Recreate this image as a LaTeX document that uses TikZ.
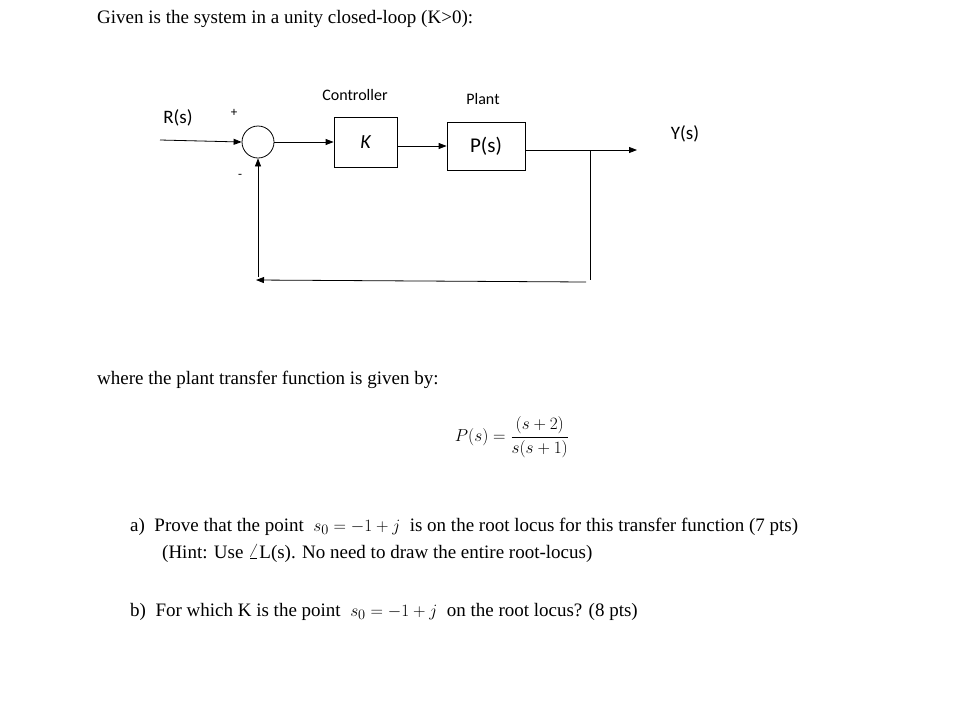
\documentclass[tikz,border=0pt]{standalone}
\usepackage{amsmath}
\usepackage{fontspec}
\setmainfont{Liberation Serif}
\newfontfamily\calfont{Carlito}
\usetikzlibrary{arrows.meta}
\begin{document}
\begin{tikzpicture}[x=1pt,y=-1pt,
  every node/.style={inner sep=0pt},
  blk/.style={draw,line width=0.8pt},
  ln/.style={line width=0.8pt},
  ar/.style={ln,-{Triangle[length=8pt,width=6pt]}},
  lab/.style={font=\calfont\fontsize{16}{18}\selectfont},
  txt/.style={font=\fontsize{19}{22}\selectfont,anchor=base west}]
\useasboundingbox (0,0) rectangle (974,710);
\node[txt] (t1) at (97,23) {Given is the system in a unity closed-loop (K>0):};
\node[draw,circle,ln,minimum size=32pt] (sum) at (258,142) {};
\node[blk,minimum width=63pt,minimum height=50pt,font=\calfont\fontsize{20}{22}\selectfont\itshape] (k) at (365.5,142) {K};
\node[blk,minimum width=78pt,minimum height=48pt,font=\calfont\fontsize{21}{24}\selectfont] (p) at (486,146) {P(s)};
\node[lab] (cl) at (355,95) {Controller};
\node[lab] (pl) at (483,99) {Plant};
\node[font=\calfont\fontsize{19}{22}\selectfont] (r) at (178,118) {R(s)};
\node[font=\calfont\fontsize{19}{22}\selectfont] (y) at (685,134) {Y(s)};
\node[font=\calfont\fontsize{13}{14}\selectfont] (pm) at (234,113) {+};
\node[font=\calfont\fontsize{13}{14}\selectfont] (mm) at (240,176) {-};
\coordinate (rin) at (160,140);
\coordinate (yout) at (637,150);
\coordinate (br) at (590,150);
\coordinate (br2) at (590,280);
\coordinate (bl1) at (586,282);
\coordinate (bl2) at (256,280);
\coordinate (up) at (258,277);
\draw[ar] (rin) -- (sum.west);
\draw[ar] (sum.east) -- (k.west |- sum.east);
\draw[ar] (k.east |- p.west) -- (p.west);
\draw[ar] (p.east |- yout) -- (yout);
\draw[ln] (br) -- (br2);
\draw[ar] (bl1) -- (bl2);
\draw[ar] (up) -- (sum.south);
\node[txt] (t2) at (97,384) {where the plant transfer function is given by:};
\node[anchor=center,font=\fontsize{19}{22}\selectfont] (eq) at (512,437) {$P(s)=\dfrac{(s+2)}{s(s+1)}$};
\node[txt] (a1) at (130,531) {a)\ \ Prove that the point \ $s_0=-1+j$ \ is on the root locus for this transfer function (7 pts)};
\node[txt] (a2) at (162,558) {(Hint: Use $\angle$L(s). No need to draw the entire root-locus)};
\node[txt] (b1) at (130,616) {b)\ \ For which K is the point \ $s_0=-1+j$ \ on the root locus? (8 pts)};
\end{tikzpicture}
\end{document}
